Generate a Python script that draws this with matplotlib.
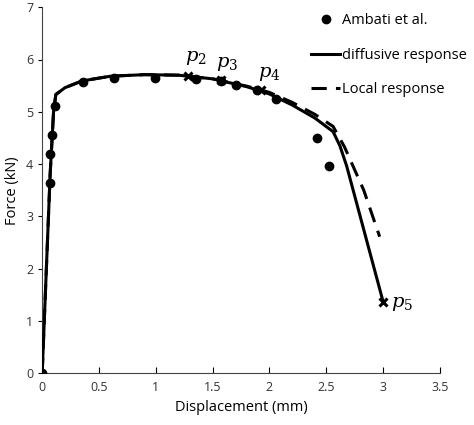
import matplotlib.pyplot as plt

# Ambati et al. experimental points
ambati_x = [0.0, 0.065, 0.07, 0.085, 0.11, 0.36, 0.63, 0.99, 1.35, 1.57, 1.71, 1.89, 2.06, 2.42, 2.52]
ambati_y = [0.0, 3.64, 4.2, 4.55, 5.11, 5.57, 5.65, 5.65, 5.63, 5.58, 5.52, 5.41, 5.25, 4.49, 3.96]

# diffusive response
diff_x = [0.0, 0.07, 0.1, 0.12, 0.2, 0.35, 0.6, 0.9, 1.2, 1.5, 1.8, 2.0, 2.2, 2.4, 2.56, 2.62, 2.68, 3.0]
diff_y = [0.0, 3.8, 5.0, 5.33, 5.46, 5.59, 5.68, 5.71, 5.7, 5.63, 5.48, 5.34, 5.13, 4.88, 4.62, 4.35, 3.96, 1.37]

# local response
local_x = [0.0, 0.07, 0.1, 0.12, 0.2, 0.35, 0.6, 0.9, 1.2, 1.5, 1.8, 2.0, 2.2, 2.4, 2.56, 2.66, 2.83, 2.97]
local_y = [0.0, 3.8, 5.0, 5.33, 5.46, 5.59, 5.68, 5.71, 5.7, 5.63, 5.49, 5.37, 5.18, 4.95, 4.72, 4.33, 3.5, 2.61]

# marked points p2..p5
pts_x = [1.28, 1.57, 1.93, 3.0]
pts_y = [5.68, 5.6, 5.42, 1.37]
pts_lbl = ["$p_2$", "$p_3$", "$p_4$", "$p_5$"]
lbl_x = [1.35, 1.63, 2.0, 3.17]
lbl_y = [6.02, 5.92, 5.73, 1.32]

plt.rcParams["font.family"] = ["Open Sans", "DejaVu Sans"]
plt.rcParams["mathtext.fontset"] = "dejavuserif"

fig = plt.figure(figsize=(4.74, 4.25), dpi=100)
ax = fig.add_axes([0.089, 0.122, 0.839, 0.861])

ax.plot(local_x, local_y, color="black", lw=2.2, ls=(0, (5, 3)), label="Local response", zorder=2)
ax.plot(diff_x, diff_y, color="black", lw=2.2, label="diffusive response", zorder=3)
ax.plot(ambati_x, ambati_y, "o", color="black", ms=6, label="Ambati et al.", zorder=4)
ax.plot(pts_x, pts_y, "x", color="black", ms=6, mew=2.2, zorder=5)

for x, y, t in zip(lbl_x, lbl_y, pts_lbl):
    ax.text(x, y, t, fontsize=14, ha="center", va="center", style="italic")

ax.set_xlim(0, 3.5)
ax.set_ylim(0, 7)
ax.set_xticks([0, 0.5, 1, 1.5, 2, 2.5, 3, 3.5])
ax.set_xticklabels(["0", "0.5", "1", "1.5", "2", "2.5", "3", "3.5"])
ax.set_yticks(range(8))
ax.tick_params(axis="x", direction="in", length=4, labelsize=9, pad=6, labelcolor="#333333")
ax.tick_params(axis="y", direction="out", length=3, labelsize=9, labelcolor="#333333")
ax.spines["top"].set_visible(False)
ax.spines["right"].set_visible(False)
ax.spines["left"].set_color("#444444")
ax.spines["bottom"].set_color("#444444")
ax.set_xlabel("Displacement (mm)", fontsize=10.5)
ax.set_ylabel("Force (kN)", fontsize=10.5, labelpad=4)

h, l = ax.get_legend_handles_labels()
ax.legend(h[::-1], l[::-1], loc="upper right", bbox_to_anchor=(1.1, 1.02), frameon=False,
          fontsize=10.5, handlelength=2.0, handletextpad=0.1, labelspacing=1.35)

fig.savefig("out.png", dpi=100)
